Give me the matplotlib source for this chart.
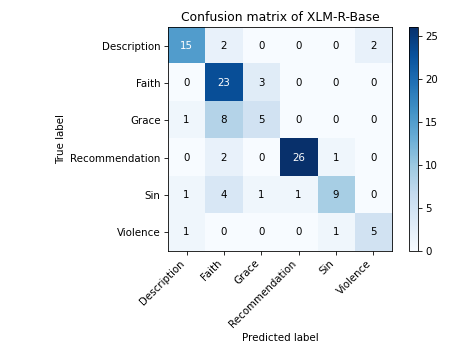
import numpy as np
from matplotlib import pyplot as plt

classes = ['Description', 'Faith', 'Grace', 'Recommendation', 'Sin', 'Violence']
row_description = [15, 2, 0, 0, 0, 2]
row_faith = [0, 23, 3, 0, 0, 0]
row_grace = [1, 8, 5, 0, 0, 0]
row_recommendation = [0, 2, 0, 26, 1, 0]
row_sin = [1, 4, 1, 1, 9, 0]
row_violence = [1, 0, 0, 0, 1, 5]

def main():
    cm = np.array([row_description, row_faith, row_grace,
                   row_recommendation, row_sin, row_violence])
    fig = plt.figure(figsize=(474/74, 355/74), dpi=74)
    ax = fig.add_axes([0.354, 0.293, 0.473, 0.631])
    cax = fig.add_axes([0.863, 0.293, 0.019, 0.631])
    im = ax.imshow(cm, interpolation='nearest', cmap=plt.cm.Blues)
    ax.set_title('Confusion matrix of XLM-R-Base')
    fig.colorbar(im, cax=cax)
    ticks = np.arange(len(classes))
    ax.set_xticks(ticks)
    ax.set_xticklabels(classes, rotation=45, ha='right', rotation_mode='default')
    ax.set_yticks(ticks)
    ax.set_yticklabels(classes)
    thresh = cm.max() / 2.
    for i in range(cm.shape[0]):
        for j in range(cm.shape[1]):
            ax.text(j, i, format(cm[i, j], 'd'), ha='center', va='center',
                    color='white' if cm[i, j] > thresh else 'black')
    ax.set_ylabel('True label')
    ax.set_xlabel('Predicted label')
    fig.savefig('out.png', dpi=74)

if __name__ == '__main__':
    main()
